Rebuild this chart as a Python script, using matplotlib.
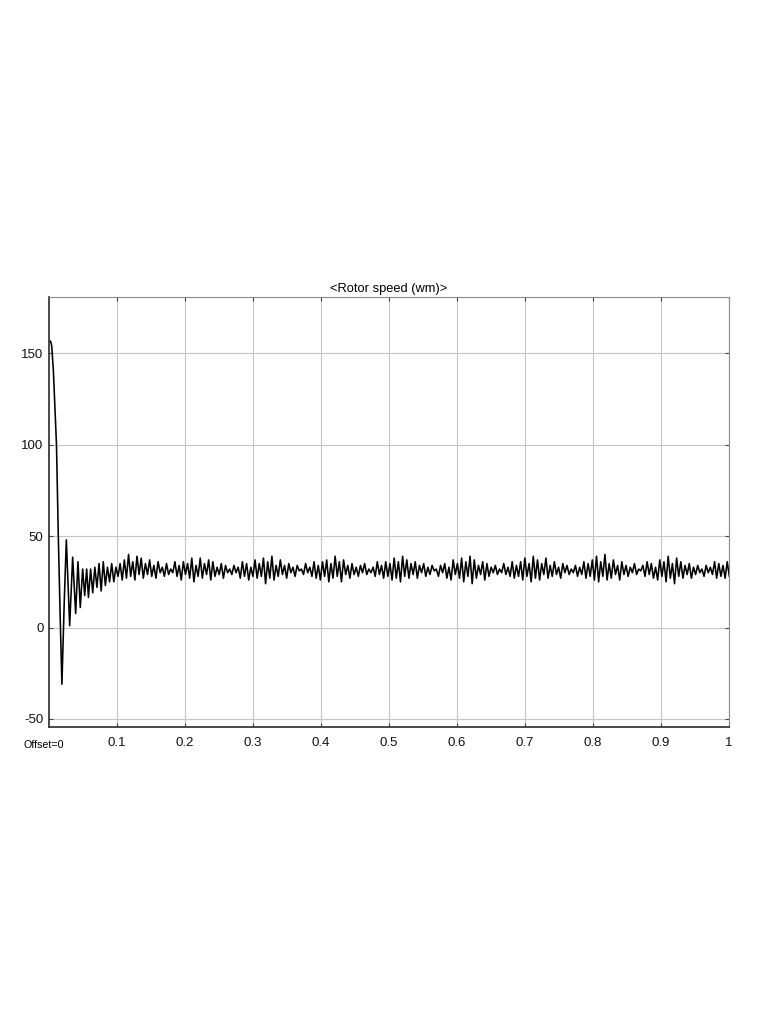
"""Rotor speed (wm) scope trace, start-up transient then ripple around ~31."""

import matplotlib
matplotlib.use("Agg")
import matplotlib.pyplot as plt  # noqa: E402
import numpy as np  # noqa: E402

plt.rcParams["font.family"] = ["Liberation Sans", "DejaVu Sans"]
plt.rcParams["axes.unicode_minus"] = False

TITLE = "<Rotor speed (wm)>"

# start-up transient, read point by point (time s, speed rad/s)
T_START = [0.0, 0.0025, 0.004, 0.0065, 0.009, 0.011, 0.0137, 0.0165, 0.019,
           0.0225, 0.0255, 0.0304, 0.0348, 0.0392, 0.0426, 0.046, 0.0495,
           0.0525, 0.0554, 0.058]
W_START = [157, 156.5, 154, 140, 118, 100, 50, 5, -31,
           15, 48, 1, 38.5, 7.7, 36, 11, 32,
           17.5, 32, 16.5]

# ripple extrema after the transient, one every DT seconds (peak, trough, ...)
T0 = 0.0612
DT = 0.0031
W_SETTLE = [32, 19, 33, 22, 35, 20, 36, 23, 33, 25, 35, 25]
W_BLOCKS = [
    [33, 28, 35, 26, 37, 27, 40, 28, 36, 26, 39, 29, 38, 27, 35, 29,
     37, 28, 34, 27, 36, 30, 33, 28, 35, 29, 32, 30, 36, 28, 34, 26],
    [36, 29, 35, 27, 38, 25, 34, 28, 38, 27, 35, 29, 37, 26, 36, 28,
     33, 29, 35, 27, 34, 30, 32, 29, 34, 30, 33, 27, 36, 28, 35, 26],
    [33, 28, 37, 27, 35, 28, 38, 24, 36, 27, 39, 26, 34, 28, 37, 29,
     34, 27, 35, 30, 33, 28, 34, 31, 32, 29, 35, 30, 33, 28, 36, 27],
    [34, 26, 36, 28, 37, 25, 35, 27, 39, 28, 36, 25, 37, 29, 34, 27,
     35, 29, 33, 28, 34, 30, 35, 29, 32, 30, 33, 28, 36, 29, 34, 27],
    [36, 28, 35, 26, 38, 27, 36, 25, 39, 28, 37, 27, 35, 29, 36, 27,
     34, 30, 35, 28, 33, 29, 34, 31, 32, 28, 34, 30, 35, 27, 33, 26],
    [37, 29, 35, 27, 38, 25, 36, 28, 39, 24, 37, 27, 34, 29, 36, 26,
     35, 28, 33, 30, 34, 29, 32, 30, 35, 29, 33, 28, 36, 27, 34, 28],
    [36, 26, 38, 28, 35, 25, 39, 27, 37, 26, 35, 29, 38, 27, 34, 28,
     36, 29, 33, 27, 35, 30, 34, 29, 32, 30, 34, 28, 33, 29, 36, 27],
    [35, 28, 37, 26, 39, 25, 36, 28, 40, 26, 35, 27, 37, 29, 34, 26,
     36, 29, 34, 28, 33, 30, 35, 29, 32, 31, 34, 28, 36, 29, 35, 27],
    [33, 26, 37, 28, 36, 25, 39, 27, 35, 24, 38, 28, 36, 27, 34, 29,
     35, 27, 33, 29, 34, 30, 32, 28, 34, 30, 33, 29, 36, 27, 35, 28],
]
W_TAIL = [34, 27, 36, 28]

X_TICKS = [0.1, 0.2, 0.3, 0.4, 0.5, 0.6, 0.7, 0.8, 0.9, 1.0]
X_LABELS = ["0.1", "0.2", "0.3", "0.4", "0.5", "0.6", "0.7", "0.8", "0.9", "1"]
Y_TICKS = [-50, 0, 50, 100, 150]


def main() -> None:
    ripple = W_SETTLE + [v for blk in W_BLOCKS for v in blk] + W_TAIL
    t_rip = T0 + DT * np.arange(len(ripple))
    t = np.concatenate([T_START, t_rip])
    w = np.concatenate([W_START, ripple])

    fig = plt.figure(figsize=(7.68, 10.24), dpi=100)
    ax = fig.add_axes([0.0638, 0.290, 0.8854, 0.420])

    ax.plot(t, w, color="black", lw=1.15)

    ax.set_xlim(0, 1)
    ax.set_ylim(-54.4, 180.8)
    ax.set_xticks(X_TICKS)
    ax.set_xticklabels(X_LABELS)
    ax.set_yticks(Y_TICKS)
    ax.grid(True, color="#c4c4c4", lw=0.8)
    ax.tick_params(direction="in", length=3, width=0.8, colors="#444444",
                   labelcolor="#111111", labelsize=9.5, top=True, right=True)
    ax.tick_params(axis="x", pad=7)
    ax.tick_params(axis="y", pad=4)

    for side in ("left", "bottom"):
        ax.spines[side].set_color("#3a3a3a")
        ax.spines[side].set_linewidth(1.3)
    for side in ("top", "right"):
        ax.spines[side].set_color("#8a8a8a")
        ax.spines[side].set_linewidth(0.8)

    ax.set_title(TITLE, fontsize=9.3, pad=3.5)
    fig.text(23 / 768, 1 - 745 / 1024, "Offset=0", fontsize=7.7,
             ha="left", va="center")

    fig.savefig("out.png", dpi=100)
    plt.close(fig)


if __name__ == "__main__":
    main()
